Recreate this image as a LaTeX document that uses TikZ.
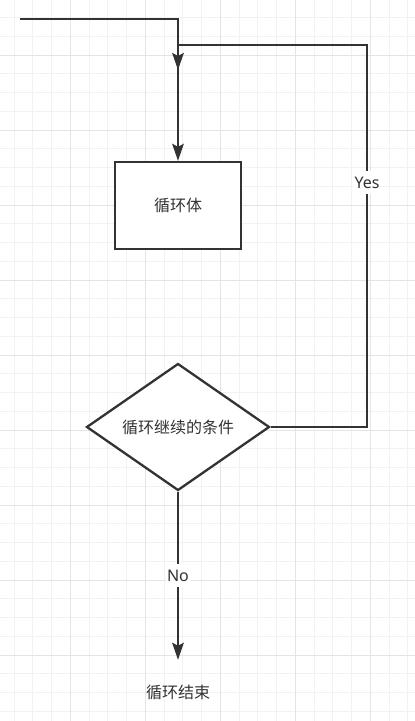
\documentclass[tikz,border=0pt]{standalone}
\usepackage{fontspec}
\setmainfont{Noto Sans}
\newfontfamily\cjk{Noto Sans CJK SC}
\usepackage{tikz}
\usetikzlibrary{shapes.geometric,arrows.meta,positioning}
\definecolor{ink}{HTML}{333333}
\definecolor{gridminor}{HTML}{F2F2F2}
\definecolor{gridmajor}{HTML}{E4E4E4}
\tikzstyle{arrow} = [draw=ink, line width=2.3pt, -{Stealth[length=17pt,width=11.5pt,inset=3pt]}]
\tikzstyle{block} = [draw=ink, line width=2.3pt, fill=white, text=ink, minimum width=126pt, minimum height=87pt, font=\cjk\fontsize{16}{19}\selectfont]
\tikzstyle{decision} = [diamond, draw=ink, line width=2.3pt, fill=white, text=ink, inner sep=0pt, aspect=1.44, minimum width=183pt, minimum height=127pt, font=\cjk\fontsize{16}{19}\selectfont]
\tikzstyle{lbl} = [fill=white, text=ink, inner xsep=1pt, inner ysep=0pt, minimum height=23pt, font=\fontsize{16}{19}\selectfont]
\tikzstyle{gridline} = [line width=1pt]

\begin{document}
\begin{tikzpicture}[x=1pt, y=-1pt]
      \useasboundingbox (0,0) rectangle (415,721);
      % background grid
      \foreach \i in {0,...,21} \draw[gridline, gridminor] ({14.05+18.75*\i},0) -- ++(0,721);
      \foreach \j in {0,...,37} \draw[gridline, gridminor] (0,{17.5+18.75*\j}) -- ++(415,0);
      \foreach \i in {1,...,5} \draw[gridline, gridmajor] ({-4.7+75*\i},0) -- ++(0,721);
      \foreach \j in {0,...,8} \draw[gridline, gridmajor] (0,{55+75*\j}) -- ++(415,0);

      \node[block] (body) at (178,205.5) {循环体};
      \node[decision] (cond) at (178,427) {循环继续的条件};
      \node[text=ink, minimum height=64pt, font=\cjk\fontsize{16}{19}\selectfont] (finish) at (178,692) {循环结束};
      \coordinate (start) at (20,19);
      \coordinate (merge) at (178,70);
      \coordinate (turnA) at (367,427);
      \coordinate (turnB) at (367,45);

      \draw[arrow] (start) -| (body);
      \draw[arrow] (cond) -- (turnA) -- node[lbl, pos=0.639]{Yes} (turnB) -| (merge);
      \draw[arrow] (cond) -- node[lbl, pos=0.5]{No} (finish);
    \end{tikzpicture}
\end{document}
